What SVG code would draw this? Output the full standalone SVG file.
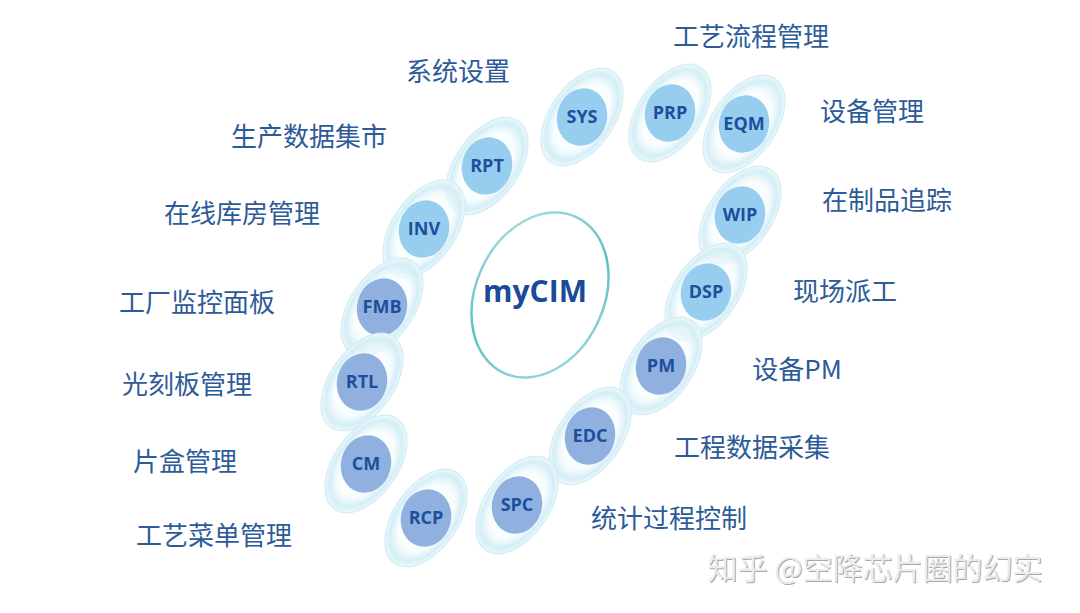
<svg xmlns="http://www.w3.org/2000/svg" width="1080" height="613" viewBox="0 0 1080 613">
<defs>
<radialGradient id="haloG" cx="50%" cy="50%" r="50%">
<stop offset="0" stop-color="#ffffff" stop-opacity="0"/>
<stop offset="0.65" stop-color="#f4fbfd" stop-opacity="0.5"/>
<stop offset="0.88" stop-color="#d3eef6"/>
<stop offset="1" stop-color="#eef8fb"/>
</radialGradient>
<linearGradient id="ringG" x1="0" y1="0" x2="1" y2="1">
<stop offset="0" stop-color="#b5e2e4"/>
<stop offset="0.5" stop-color="#5cbfc3"/>
<stop offset="1" stop-color="#a8dcdf"/>
</linearGradient>
<style>
.halo{fill:url(#haloG);stroke:#d2edf5;stroke-width:1.2}
.core1{fill:#97cef0}
.core2{fill:#90b1df}
.nt{font-family:"Open Sans","DejaVu Sans",sans-serif;font-weight:700;font-size:18px;fill:#1c4f9c;text-anchor:middle}
.lb{font-family:"Noto Sans CJK SC",sans-serif;font-size:26px;fill:#2d5b98;text-anchor:middle}
</style>
</defs>
<rect width="1080" height="613" fill="#ffffff"/>
<g id="connectors"/>
<g id="center">
<ellipse cx="540" cy="295" rx="64" ry="86" transform="rotate(25 540 295)" fill="none" stroke="url(#ringG)" stroke-width="2.5"/>
<text x="535" y="302" font-family="'Open Sans','DejaVu Sans',sans-serif" font-weight="700" font-size="30" fill="#1a4a9a" text-anchor="middle">myCIM</text>
</g>
<g id="node-SYS" transform="translate(582,117)"><ellipse class="halo" rx="32" ry="55" transform="rotate(35)"/><ellipse class="core1" rx="25" ry="29" transform="rotate(15)"/><text class="nt" y="6">SYS</text></g>
<g id="node-PRP" transform="translate(670,113)"><ellipse class="halo" rx="32" ry="55" transform="rotate(35)"/><ellipse class="core1" rx="25" ry="29" transform="rotate(15)"/><text class="nt" y="6">PRP</text></g>
<g id="node-EQM" transform="translate(744,124)"><ellipse class="halo" rx="32" ry="55" transform="rotate(35)"/><ellipse class="core1" rx="25" ry="29" transform="rotate(15)"/><text class="nt" y="6">EQM</text></g>
<g id="node-RPT" transform="translate(487,166)"><ellipse class="halo" rx="32" ry="55" transform="rotate(35)"/><ellipse class="core1" rx="25" ry="29" transform="rotate(15)"/><text class="nt" y="6">RPT</text></g>
<g id="node-INV" transform="translate(424,229)"><ellipse class="halo" rx="32" ry="55" transform="rotate(35)"/><ellipse class="core1" rx="25" ry="29" transform="rotate(15)"/><text class="nt" y="6">INV</text></g>
<g id="node-WIP" transform="translate(740,215)"><ellipse class="halo" rx="32" ry="55" transform="rotate(35)"/><ellipse class="core1" rx="25" ry="29" transform="rotate(15)"/><text class="nt" y="6">WIP</text></g>
<g id="node-DSP" transform="translate(706,292)"><ellipse class="halo" rx="32" ry="55" transform="rotate(35)"/><ellipse class="core1" rx="25" ry="29" transform="rotate(15)"/><text class="nt" y="6">DSP</text></g>
<g id="node-FMB" transform="translate(382,307)"><ellipse class="halo" rx="32" ry="55" transform="rotate(35)"/><ellipse class="core2" rx="25" ry="29" transform="rotate(15)"/><text class="nt" y="6">FMB</text></g>
<g id="node-PM" transform="translate(661,366)"><ellipse class="halo" rx="32" ry="55" transform="rotate(35)"/><ellipse class="core2" rx="25" ry="29" transform="rotate(15)"/><text class="nt" y="6">PM</text></g>
<g id="node-RTL" transform="translate(362,382)"><ellipse class="halo" rx="32" ry="55" transform="rotate(35)"/><ellipse class="core2" rx="25" ry="29" transform="rotate(15)"/><text class="nt" y="6">RTL</text></g>
<g id="node-EDC" transform="translate(590,436)"><ellipse class="halo" rx="32" ry="55" transform="rotate(35)"/><ellipse class="core2" rx="25" ry="29" transform="rotate(15)"/><text class="nt" y="6">EDC</text></g>
<g id="node-CM" transform="translate(366,464)"><ellipse class="halo" rx="32" ry="55" transform="rotate(35)"/><ellipse class="core2" rx="25" ry="29" transform="rotate(15)"/><text class="nt" y="6">CM</text></g>
<g id="node-SPC" transform="translate(517,505)"><ellipse class="halo" rx="32" ry="55" transform="rotate(35)"/><ellipse class="core2" rx="25" ry="29" transform="rotate(15)"/><text class="nt" y="6">SPC</text></g>
<g id="node-RCP" transform="translate(426,518)"><ellipse class="halo" rx="32" ry="55" transform="rotate(35)"/><ellipse class="core2" rx="25" ry="29" transform="rotate(15)"/><text class="nt" y="6">RCP</text></g>
<g id="labels">
<text class="lb" x="458" y="81">系统设置</text>
<text class="lb" x="751" y="46">工艺流程管理</text>
<text class="lb" x="872" y="121">设备管理</text>
<text class="lb" x="309" y="146">生产数据集市</text>
<text class="lb" x="242" y="223">在线库房管理</text>
<text class="lb" x="887" y="210">在制品追踪</text>
<text class="lb" x="197" y="312">工厂监控面板</text>
<text class="lb" x="845" y="301">现场派工</text>
<text class="lb" x="187" y="394">光刻板管理</text>
<text class="lb" x="797" y="379">设备PM</text>
<text class="lb" x="185" y="471">片盒管理</text>
<text class="lb" x="752" y="457">工程数据采集</text>
<text class="lb" x="669" y="528">统计过程控制</text>
<text class="lb" x="214" y="545">工艺菜单管理</text>
</g>
<g id="watermark" font-family="'Noto Sans CJK SC',sans-serif" font-size="30" text-anchor="middle">
<text x="876" y="580" fill="#a8a8a8">知乎 @空降芯片圈的幻实</text>
<text x="875" y="579" fill="#ececec">知乎 @空降芯片圈的幻实</text>
</g>
</svg>
